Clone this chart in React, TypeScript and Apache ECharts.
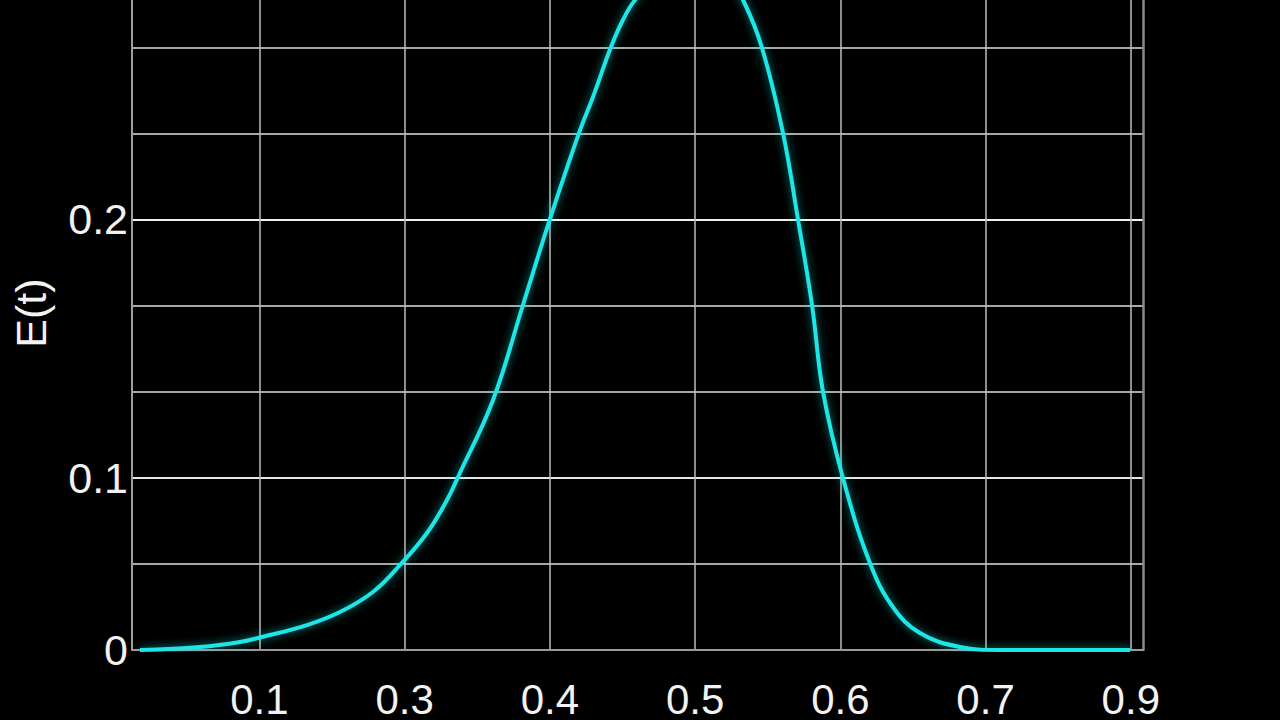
import React, { useEffect, useRef } from "react";
import * as echarts from "echarts";

// x positions are in grid-column units (1 = first labelled column line)
const curveX = [0.178, 0.591, 0.867, 1.018, 1.328, 1.555, 1.782, 1.968, 2.154, 2.292, 2.368, 2.609, 2.815, 3.001, 3.201, 3.297, 3.421, 3.503, 3.587, 3.758, 4.0, 4.207, 4.33, 4.459, 4.605, 4.708, 4.805, 4.881, 5.018, 5.204, 5.362, 5.548, 5.824, 6.099, 6.994];
// y values in grid-row units (0 = baseline)
const curveY = [0.0, 0.035, 0.093, 0.151, 0.29, 0.441, 0.674, 0.987, 1.359, 1.742, 2.009, 2.904, 4.007, 5.006, 6.005, 6.423, 7.003, 7.317, 7.549, 7.84, 8.037, 7.875, 7.549, 7.003, 6.005, 5.006, 4.007, 2.997, 1.998, 1.01, 0.499, 0.197, 0.035, 0.0, 0.0];

const xTickValues = [1, 2, 3, 4, 5, 6, 7];
const xTickLabels = ["0.1", "0.3", "0.4", "0.5", "0.6", "0.7", "0.9"];
const yTickValues = [0, 1, 2, 3, 4, 5, 6, 7];
const yLabelValues = [0, 2, 5];
const yLabelTexts = ["0", "0.1", "0.2"];
const yGridColors = ["#9a9a9a", "#a8a8a8", "#e6e6e6", "#a8a8a8", "#a8a8a8", "#f0f0f0", "#a8a8a8", "#a8a8a8"];

const X_MIN = 0.123;
const X_MAX = 7.084;
const Y_MIN = 0;
const Y_MAX = 7.549;

const FONT = "'Liberation Sans', Arial, Helvetica, sans-serif";

export default function App() {
  const ref = useRef<HTMLDivElement>(null);

  useEffect(() => {
    if (!ref.current) return;
    const chart = echarts.init(ref.current, undefined, { renderer: "svg" });
    const data = curveX.map((x, i) => [x, curveY[i]]);
    chart.setOption({
      animation: false,
      backgroundColor: "#000000",
      grid: {
        left: 132,
        right: 137,
        top: 0,
        bottom: 70,
        containLabel: false,
        outerBoundsMode: "none",
      },
      xAxis: {
        type: "value",
        min: X_MIN,
        max: X_MAX,
        axisLine: { show: true, onZero: false, lineStyle: { color: "#9a9a9a", width: 2 } },
        axisTick: { show: false, customValues: xTickValues },
        splitLine: { show: true, lineStyle: { color: "#bdbdbd", width: 1.5 } },
        axisLabel: {
          show: true,
          customValues: xTickValues,
          margin: 28,
          color: "#f2f2f2",
          fontSize: 42,
          fontFamily: FONT,
          formatter: (v: number) => {
            const i = xTickValues.indexOf(Math.round(v));
            return i >= 0 ? xTickLabels[i] : "";
          },
        },
      },
      yAxis: [
        {
          type: "value",
          min: Y_MIN,
          max: Y_MAX,
          name: "E(t)",
          nameLocation: "middle",
          nameRotate: 90,
          nameGap: 80,
          nameTextStyle: { color: "#f2f2f2", fontSize: 43, fontFamily: FONT, padding: [0, 0, 0, 24] },
          axisLine: { show: true, lineStyle: { color: "#a0a0a0", width: 2 } },
          axisTick: { show: false, customValues: yTickValues },
          splitLine: { show: true, lineStyle: { color: yGridColors, width: 1.8 } },
          axisLabel: {
            show: true,
            customValues: yLabelValues,
            margin: 4,
            color: "#f2f2f2",
            fontSize: 43,
            fontFamily: FONT,
            formatter: (v: number) => {
              const i = yLabelValues.indexOf(Math.round(v));
              return i >= 0 ? yLabelTexts[i] : "";
            },
          },
        },
        {
          type: "value",
          position: "right",
          min: Y_MIN,
          max: Y_MAX,
          axisLine: { show: true, lineStyle: { color: "#8a8a8a", width: 2.5 } },
          axisTick: { show: false },
          splitLine: { show: false },
          axisLabel: { show: false },
        },
      ],
      series: [
        {
          type: "line",
          data,
          smooth: 0.4,
          showSymbol: false,
          yAxisIndex: 0,
          lineStyle: {
            color: "#1fe6e6",
            width: 4,
            shadowColor: "rgba(0, 255, 255, 0.55)",
            shadowBlur: 8,
          },
        },
      ],
    });
    return () => chart.dispose();
  }, []);

  return (
    <div
      ref={ref}
      style={{ position: "fixed", left: 0, top: 0, width: 1280, height: 720, background: "#000" }}
    />
  );
}
